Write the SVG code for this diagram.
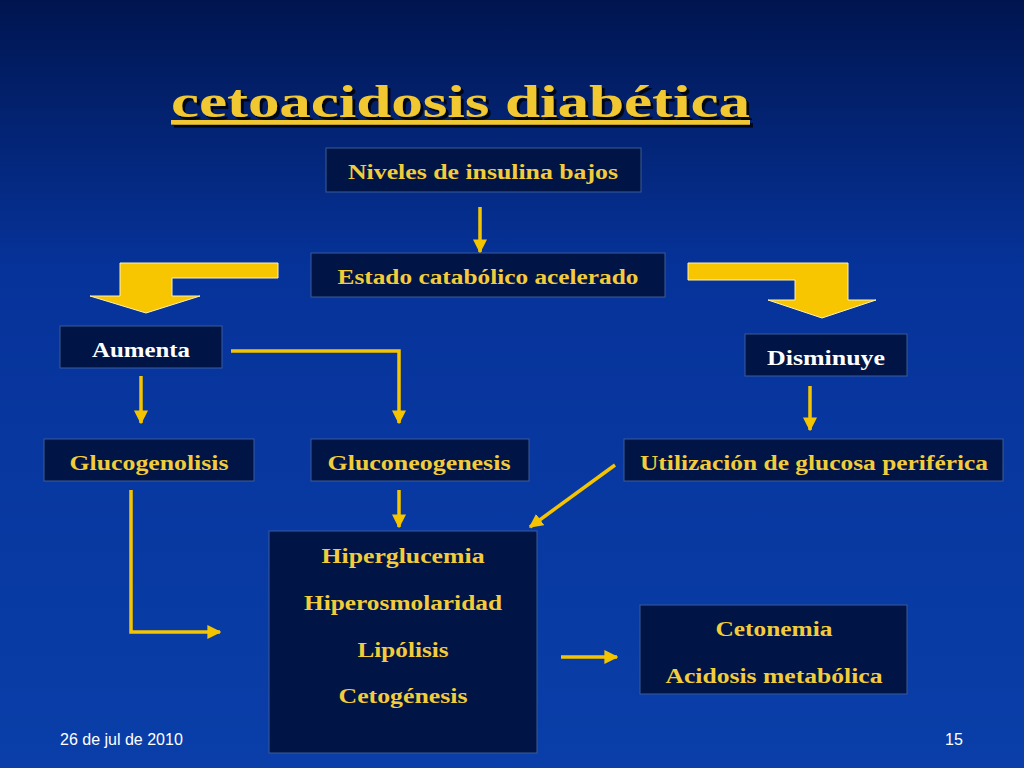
<svg xmlns="http://www.w3.org/2000/svg" width="1024" height="768" viewBox="0 0 1024 768">
<defs>
<linearGradient id="bg" x1="0" y1="0" x2="0" y2="1"><stop offset="0" stop-color="#001550"/><stop offset="0.35" stop-color="#06339a"/><stop offset="1" stop-color="#0a3ea8"/></linearGradient>
<marker id="ah" viewBox="0 0 10 10" refX="9" refY="5" markerWidth="4" markerHeight="4" orient="auto"><path d="M0,0 L10,5 L0,10 z" fill="#f5c400"/></marker>
<filter id="sh" x="-5%" y="-20%" width="110%" height="140%"><feDropShadow dx="3" dy="3" stdDeviation="0.5" flood-color="#000" flood-opacity="0.8"/></filter>
<style>
.box{fill:#001545;stroke:#3a5a9a;stroke-width:1}
.t{font-family:"Liberation Serif",serif;font-weight:bold;font-size:20px;fill:#f2cc3a;text-anchor:middle}
.w{fill:#ffffff}
.c{fill:none;stroke:#f5c400;stroke-width:3.5;marker-end:url(#ah)}
.big{fill:#f7c600;stroke:#fff2b0;stroke-width:1}
</style>
</defs>
<rect width="1024" height="768" fill="url(#bg)"/>
<text x="171" y="117" font-family="Liberation Serif,serif" font-weight="bold" font-size="46" fill="#f2c830" text-decoration="underline" textLength="579" lengthAdjust="spacingAndGlyphs" filter="url(#sh)">cetoacidosis diabética</text>
<g id="n1"><rect class="box" x="326" y="148" width="315" height="44"/><text class="t" x="483" y="179" textLength="270" lengthAdjust="spacingAndGlyphs">Niveles de insulina bajos</text></g>
<g id="n2"><rect class="box" x="311" y="253" width="354" height="44"/><text class="t" x="488" y="284" textLength="301" lengthAdjust="spacingAndGlyphs">Estado catabólico acelerado</text></g>
<g id="n3"><rect class="box" x="60" y="326" width="162" height="42"/><text class="t w" x="141" y="357" textLength="98" lengthAdjust="spacingAndGlyphs">Aumenta</text></g>
<g id="n4"><rect class="box" x="745" y="334" width="162" height="42"/><text class="t w" x="826" y="365" textLength="118" lengthAdjust="spacingAndGlyphs">Disminuye</text></g>
<g id="n5"><rect class="box" x="44" y="439" width="210" height="42"/><text class="t" x="149" y="470" textLength="159" lengthAdjust="spacingAndGlyphs">Glucogenolisis</text></g>
<g id="n6"><rect class="box" x="311" y="439" width="218" height="42"/><text class="t" x="419" y="470" textLength="183" lengthAdjust="spacingAndGlyphs">Gluconeogenesis</text></g>
<g id="n7"><rect class="box" x="624" y="439" width="379" height="42"/><text class="t" x="814" y="470" textLength="348" lengthAdjust="spacingAndGlyphs">Utilización de glucosa periférica</text></g>
<g id="n8"><rect class="box" x="269" y="531" width="268" height="222"/>
<text class="t" x="403" y="563" textLength="163" lengthAdjust="spacingAndGlyphs">Hiperglucemia</text><text class="t" x="403" y="610" textLength="198" lengthAdjust="spacingAndGlyphs">Hiperosmolaridad</text><text class="t" x="403" y="657" textLength="91" lengthAdjust="spacingAndGlyphs">Lipólisis</text><text class="t" x="403" y="703" textLength="129" lengthAdjust="spacingAndGlyphs">Cetogénesis</text></g>
<g id="n9"><rect class="box" x="640" y="605" width="267" height="89"/><text class="t" x="774" y="636" textLength="117" lengthAdjust="spacingAndGlyphs">Cetonemia</text><text class="t" x="774" y="683" textLength="217" lengthAdjust="spacingAndGlyphs">Acidosis metabólica</text></g>
<g id="connectors">
<path class="big" d="M278,263 L278,278 L172,278 L172,296 L200,296 L146,313 L90,296 L120,296 L120,263 Z"/>
<path class="big" d="M688,263 L848,263 L848,300 L876,300 L822,318 L768,300 L795,300 L795,280 L688,280 Z"/>
<path class="c" d="M480,207 L480,252"/>
<path class="c" d="M231,351 L399,351 L399,423"/>
<path class="c" d="M141,376 L141,423"/>
<path class="c" d="M810,386 L810,430"/>
<path class="c" d="M399,490 L399,527"/>
<path class="c" d="M615,465 L530,527"/>
<path class="c" d="M131,490 L131,632 L220,632"/>
<path class="c" d="M561,657 L617,657"/>
</g>
<text x="60" y="745" font-family="Liberation Sans,sans-serif" font-size="16" fill="#fff">26 de jul de 2010</text>
<text x="945" y="745" font-family="Liberation Sans,sans-serif" font-size="16" fill="#fff">15</text>
</svg>
